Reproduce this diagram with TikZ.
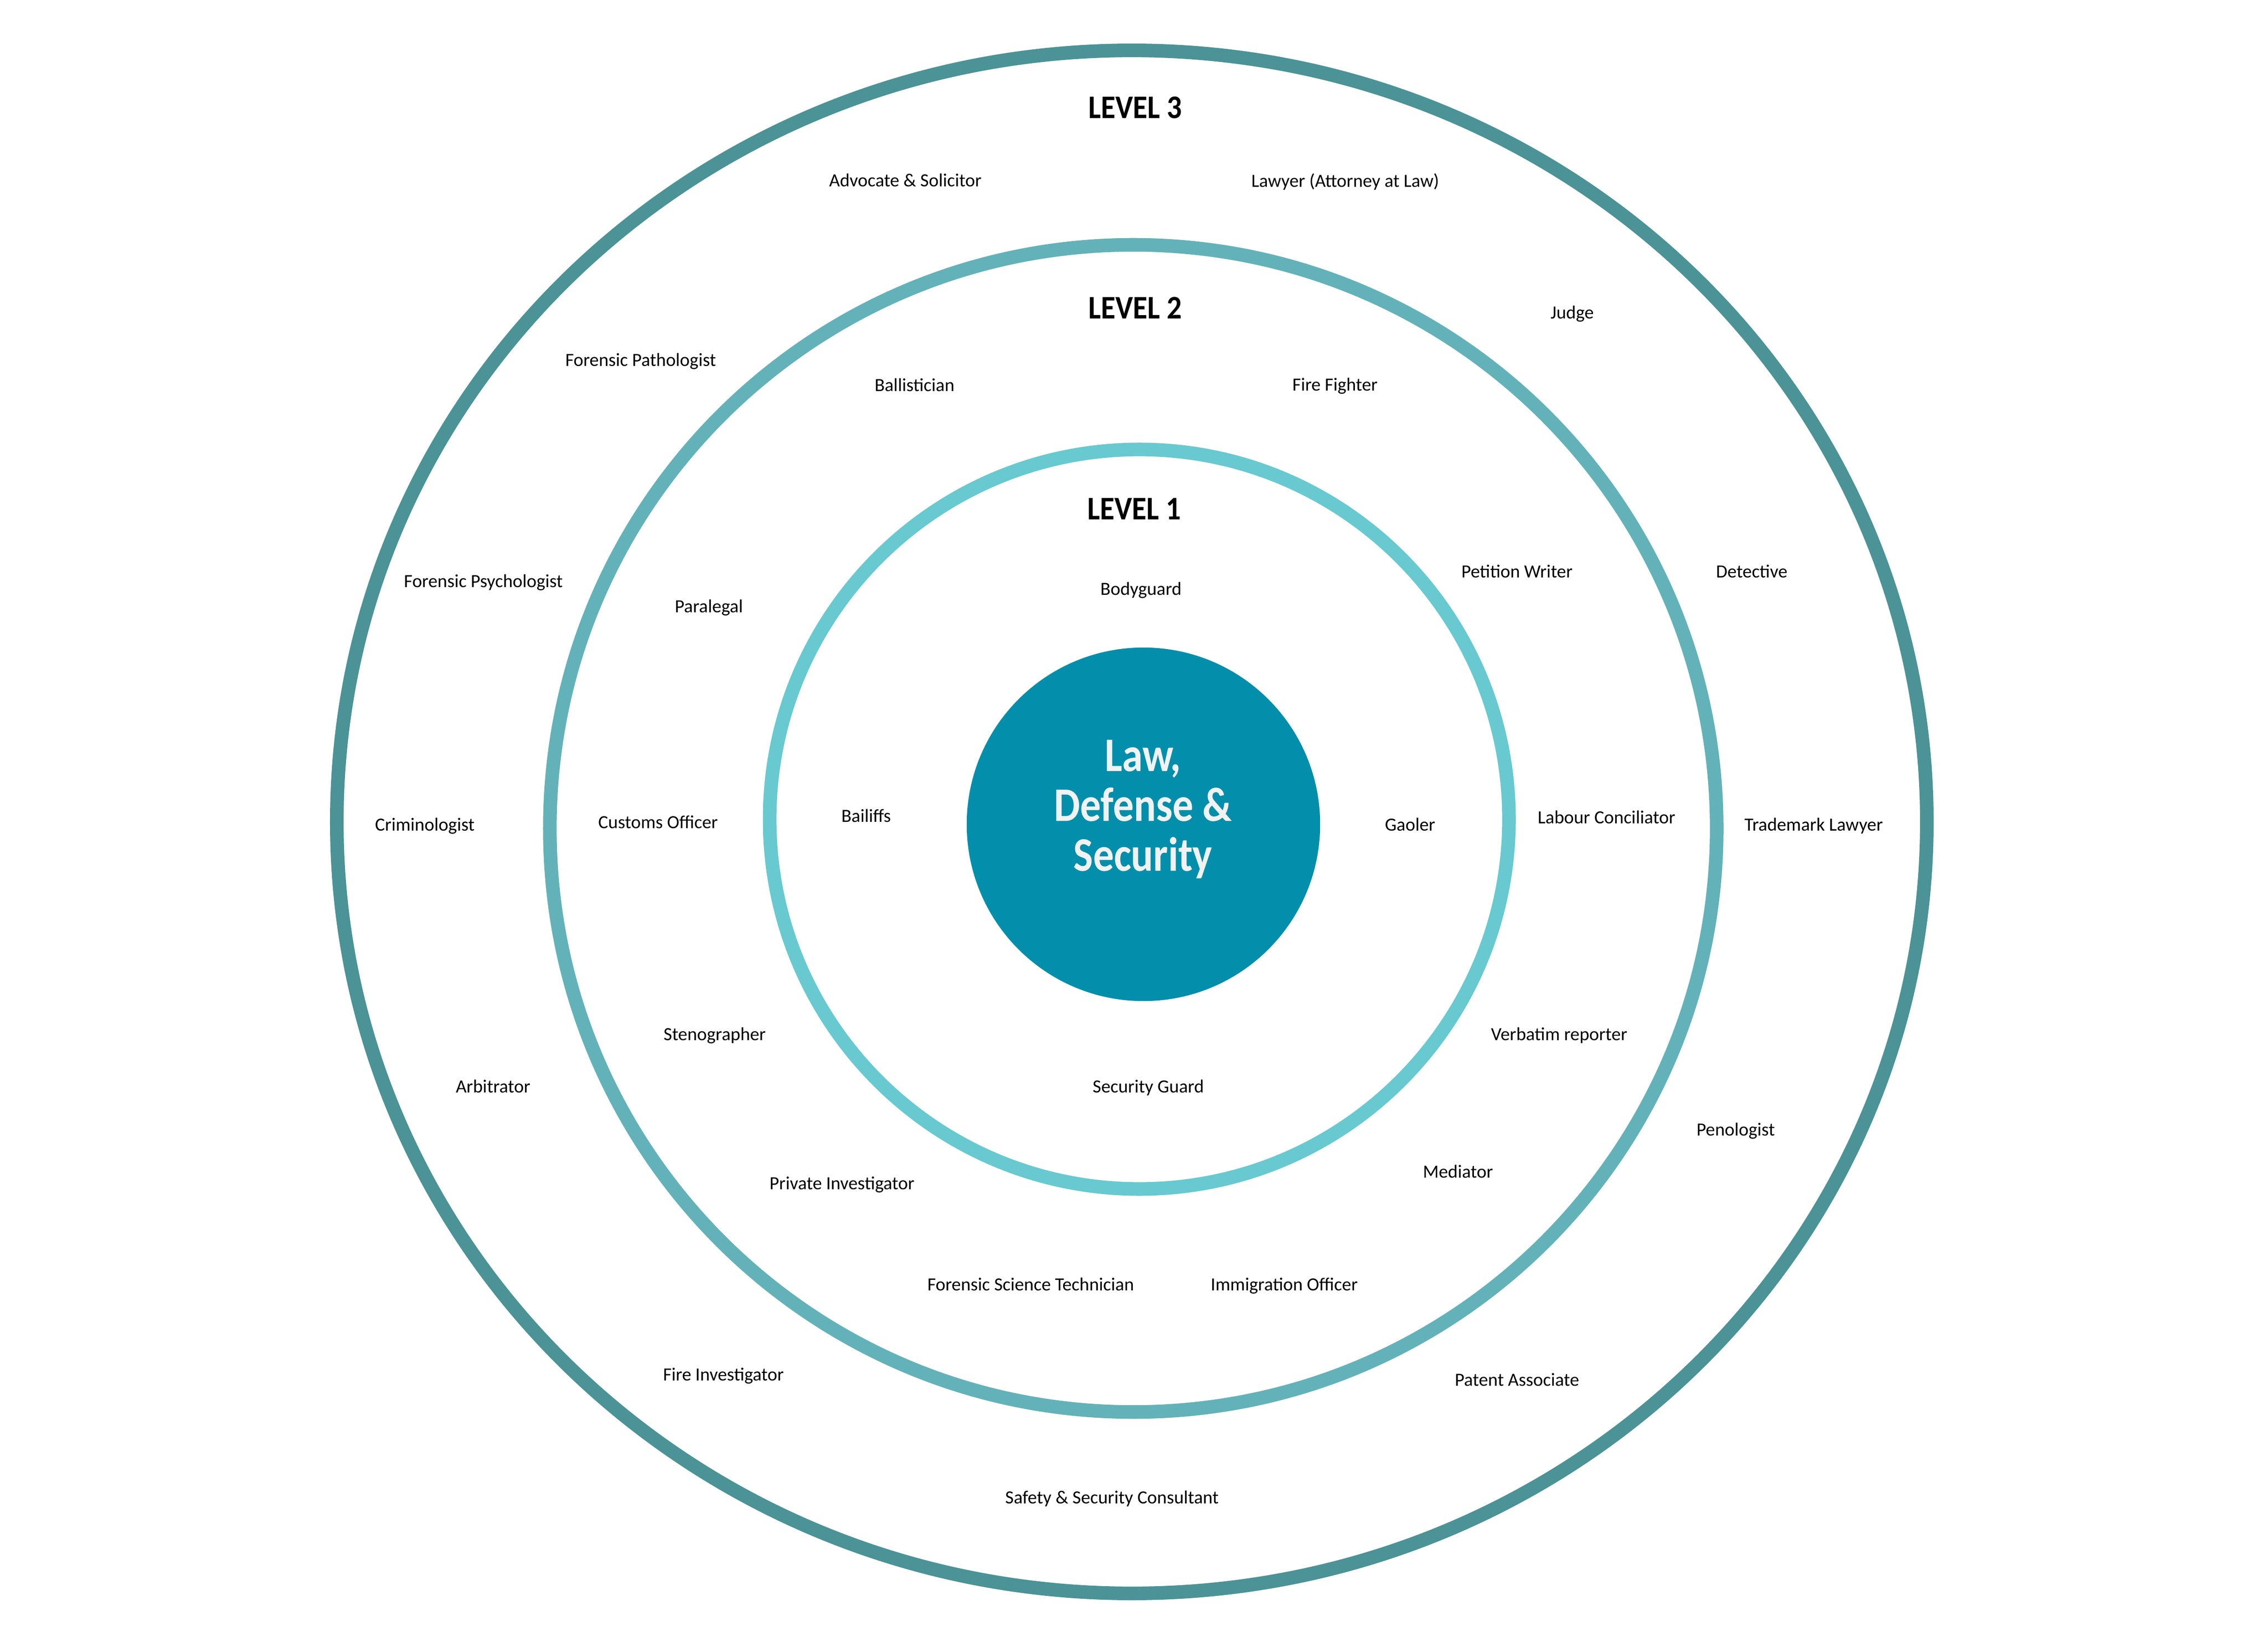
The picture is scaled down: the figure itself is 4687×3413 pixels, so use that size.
\documentclass[tikz,border=0pt]{standalone}
\usepackage{fontspec}
\setmainfont{Carlito}
\newfontfamily\corefont{Carlito}[FakeStretch=0.86]
\newfontfamily\levelfont{Carlito}[FakeStretch=0.9]
\usetikzlibrary{shapes.geometric}
\definecolor{ringthree}{HTML}{4B9397}
\definecolor{ringtwo}{HTML}{64B2B9}
\definecolor{ringone}{HTML}{68C9D1}
\definecolor{corefill}{HTML}{038FAB}
\definecolor{coretext}{HTML}{F2F2F2}
\begin{document}
\begin{tikzpicture}[
    x=0.01cm, y=-0.01cm,
    ring/.style={ellipse, draw, line width=8pt, inner sep=0pt},
    core/.style={circle, fill=corefill, minimum size=7.3cm, inner sep=0pt},
    corelabel/.style={align=center, text=coretext, font=\corefont\bfseries\fontsize{28.3}{29.3}\selectfont},
    level/.style={inner sep=0pt, text height=12.5pt, text depth=0pt, font=\levelfont\bfseries\fontsize{19.4}{22}\selectfont},
    job/.style={inner sep=0pt, text height=7pt, text depth=0pt, font=\fontsize{10.9}{12}\selectfont}
]
    \path [fill=white, use as bounding box] (0,0) rectangle (4687,3413);

    % Rings
    \node [ring, draw=ringthree, minimum width=32.84cm, minimum height=31.86cm] (ring3) at (2339,1698) {};
    \node [ring, draw=ringtwo, minimum width=24.1cm, minimum height=24.1cm] (ring2) at (2342,1711.5) {};
    \node [ring, draw=ringone, minimum width=15.27cm, minimum height=15.27cm] (ring1) at (2354.5,1692.5) {};
    \node [core] (core) at (2363,1703) {};
    \node [corelabel] (coretitle) at (2362,1672) {Law,\\Defense \&\\Security};

    % Level titles
    \node [level] (level3) at (2346,223) {LEVEL 3};
    \node [level] (level2) at (2346,637) {LEVEL 2};
    \node [level] (level1) at (2344,1052) {LEVEL 1};

    % Level 1
    \node [job] (bodyguard) at (2358,1217) {Bodyguard};
    \node [job] (bailiffs) at (1790,1686) {Bailiffs};
    \node [job] (gaoler) at (2914,1704) {Gaoler};
    \node [job] (guard) at (2373,2245) {Security Guard};

    % Level 2
    \node [job] (ballistician) at (1890,796) {Ballistician};
    \node [job] (firefighter) at (2759,795) {Fire Fighter};
    \node [job] (paralegal) at (1465,1253) {Paralegal};
    \node [job] (petition) at (3135,1181) {Petition Writer};
    \node [job] (customs) at (1360,1699) {Customs Officer};
    \node [job] (labour) at (3320,1689) {Labour Conciliator};
    \node [job] (steno) at (1477,2137) {Stenographer};
    \node [job] (verbatim) at (3222,2137) {Verbatim reporter};
    \node [job] (private) at (1740,2445) {Private Investigator};
    \node [job] (mediator) at (3013,2421) {Mediator};
    \node [job] (forensictech) at (2130,2654) {Forensic Science Technician};
    \node [job] (immigration) at (2654,2654) {Immigration Officer};

    % Level 3
    \node [job] (advocate) at (1871,373) {Advocate \& Solicitor};
    \node [job] (lawyer) at (2780,374) {Lawyer (Attorney at Law)};
    \node [job] (judge) at (3249,646) {Judge};
    \node [job] (pathologist) at (1324,744) {Forensic Pathologist};
    \node [job] (psychologist) at (999,1201) {Forensic Psychologist};
    \node [job] (detective) at (3620,1181) {Detective};
    \node [job] (criminologist) at (878,1704) {Criminologist};
    \node [job] (trademark) at (3748,1704) {Trademark Lawyer};
    \node [job] (arbitrator) at (1019,2245) {Arbitrator};
    \node [job] (penologist) at (3587,2334) {Penologist};
    \node [job] (fireinv) at (1495,2840) {Fire Investigator};
    \node [job] (patent) at (3135,2851) {Patent Associate};
    \node [job] (safety) at (2298,3094) {Safety \& Security Consultant};
\end{tikzpicture}
\end{document}
